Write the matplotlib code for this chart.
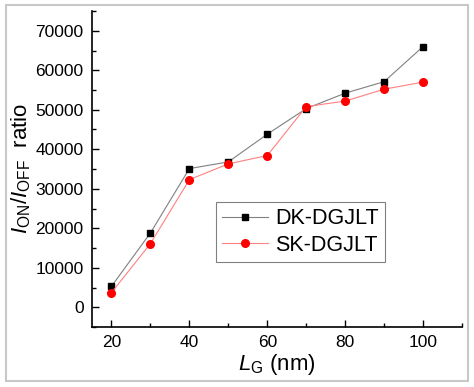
import matplotlib
matplotlib.use('Agg')
import matplotlib.pyplot as plt
from matplotlib.ticker import MultipleLocator
from matplotlib.patches import Rectangle

lg = [20, 30, 40, 50, 60, 70, 80, 90, 100]
dk = [5300, 18800, 35100, 36800, 43800, 50300, 54200, 57100, 66000]
sk = [3700, 16100, 32300, 36300, 38400, 50800, 52200, 55200, 57000]

plt.rcParams['font.family'] = ['Liberation Sans', 'DejaVu Sans']
plt.rcParams['mathtext.fontset'] = 'custom'
plt.rcParams['mathtext.rm'] = 'Liberation Sans'
plt.rcParams['mathtext.it'] = 'Liberation Sans:italic'

fig = plt.figure(figsize=(4.74, 3.87), dpi=100)
fig.patches.append(Rectangle((0.012, 0.015), 0.975, 0.972, transform=fig.transFigure,
                             fill=False, edgecolor='#c8c8c8', linewidth=1.5))
ax = fig.add_axes([92/474, 1-327/387, (462-92)/474, (327-11)/387])

ax.plot(lg, dk, color='#808080', linewidth=0.8, marker='s', markersize=4.5,
        markerfacecolor='black', markeredgecolor='black', label='DK-DGJLT')
ax.plot(lg, sk, color='#ff8080', linewidth=0.8, marker='o', markersize=5.5,
        markerfacecolor='red', markeredgecolor='red', label='SK-DGJLT')

ax.set_xlim(15, 110)
ax.set_ylim(-5000, 75000)
ax.xaxis.set_major_locator(MultipleLocator(20))
ax.xaxis.set_minor_locator(MultipleLocator(10))
ax.yaxis.set_major_locator(MultipleLocator(10000))
ax.yaxis.set_minor_locator(MultipleLocator(5000))
for s in ['top', 'right']:
    ax.spines[s].set_visible(False)
for s in ['left', 'bottom']:
    ax.spines[s].set_linewidth(1.2)
ax.tick_params(which='major', direction='in', length=5, width=1, labelsize=12.5, pad=6)
ax.tick_params(which='minor', direction='in', length=3, width=1)

ax.set_xlabel(r'$L_\mathrm{G}$ (nm)', fontsize=16, labelpad=1)
ax.set_ylabel(r'$I_\mathrm{ON}/I_\mathrm{OFF}$  ratio', fontsize=16, labelpad=2)

leg = ax.legend(loc='upper left', bbox_to_anchor=(0.335, 0.396), borderaxespad=0,
                fontsize=15.5, fancybox=False, edgecolor='#808080', framealpha=1,
                handlelength=2.1, handletextpad=0.35, borderpad=0.3, labelspacing=0.25)
leg.get_frame().set_linewidth(0.8)

fig.savefig('out.png', dpi=100)
